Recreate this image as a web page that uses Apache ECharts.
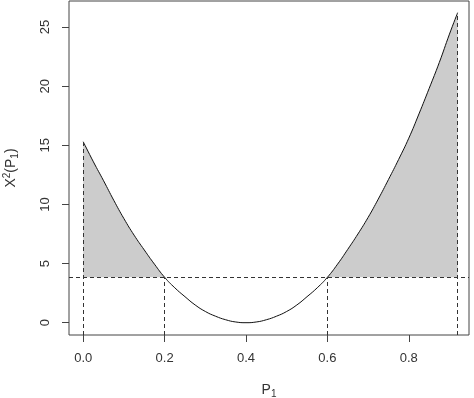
<!DOCTYPE html>
<html>
<head>
<meta charset="utf-8">
<script src="https://cdn.jsdelivr.net/npm/echarts@6/dist/echarts.min.js"></script>
<style>
  html, body { margin: 0; padding: 0; background: #fff; }
  #chart { width: 474px; height: 398px; }
</style>
</head>
<body>
<div id="chart"></div>
<script>
// values
const pValues = [0, 0.025, 0.05, 0.075, 0.1, 0.125, 0.15, 0.175, 0.2, 0.225, 0.25, 0.275, 0.3, 0.325, 0.35, 0.375, 0.4,
  0.425, 0.45, 0.475, 0.5, 0.525, 0.55, 0.575, 0.6, 0.625, 0.65, 0.675, 0.7, 0.725, 0.75, 0.775, 0.8, 0.825, 0.85, 0.875, 0.9, 0.92];
const chiValues = [15.3, 13.6, 12.0, 10.35, 8.8, 7.4, 6.15, 4.95, 3.84, 2.95, 2.2, 1.5, 0.95, 0.55, 0.25, 0.06, 0.0,
  0.06, 0.25, 0.55, 0.95, 1.5, 2.2, 2.95, 3.84, 4.95, 6.2, 7.5, 8.9, 10.45, 12.1, 13.8, 15.6, 17.65, 19.8, 22.0, 24.4, 26.2];
const critical = 3.84;
const cutPoints = [0, 0.2, 0.6, 0.92];
const xTicks = [0, 0.2, 0.4, 0.6, 0.8];
const yTicks = [0, 5, 10, 15, 20, 25];

const xMin = -0.035, xMax = 0.948;
const yMin = -1.04, yMax = 27.2;

const curve = pValues.map((p, i) => [p, chiValues[i]]);
const leftTail = curve.filter(d => d[0] <= 0.2);
const rightTail = curve.filter(d => d[0] >= 0.6);

const font = 'Liberation Sans, Arial, sans-serif';
const ink = '#333';

const vLines = cutPoints.map(c => {
  const top = chiValues[pValues.indexOf(c)];
  return [{ coord: [c, yMin] }, { coord: [c, top] }];
});

const chart = echarts.init(document.getElementById('chart'));
chart.setOption({
  backgroundColor: '#fff',
  animation: false,
  grid: {
    left: 69,
    right: 5,
    top: 1,
    bottom: 63,
    outerBoundsMode: 'none',
    show: true,
    borderColor: '#444',
    borderWidth: 1
  },
  xAxis: {
    type: 'value',
    min: xMin,
    max: xMax,
    name: '{a|P}{s|1}',
    nameLocation: 'middle',
    nameGap: 46,
    nameTextStyle: {
      rich: {
        a: { fontSize: 14, color: ink, fontFamily: font, lineHeight: 18 },
        s: { fontSize: 10, color: ink, fontFamily: font, verticalAlign: 'bottom', padding: [8, 0, 0, 0] }
      }
    },
    axisLine: { show: false, onZero: false },
    splitLine: { show: false },
    axisTick: { show: true, length: 7, customValues: xTicks, lineStyle: { color: '#444' } },
    axisLabel: {
      customValues: xTicks,
      margin: 17,
      fontSize: 13,
      color: ink,
      fontFamily: font,
      formatter: v => v.toFixed(1)
    }
  },
  yAxis: {
    type: 'value',
    min: yMin,
    max: yMax,
    name: '{a|X}{sup|2}{a|(P}{sub|1}{a|)}',
    nameLocation: 'middle',
    nameRotate: 90,
    nameGap: 49,
    nameTextStyle: {
      rich: {
        a: { fontSize: 14, color: ink, fontFamily: font, lineHeight: 18 },
        sup: { fontSize: 10, color: ink, fontFamily: font, verticalAlign: 'top', padding: [0, 0, 8, 0] },
        sub: { fontSize: 10, color: ink, fontFamily: font, verticalAlign: 'bottom', padding: [8, 0, 0, 0] }
      }
    },
    axisLine: { show: false, onZero: false },
    splitLine: { show: false },
    axisTick: { show: true, length: 7, customValues: yTicks, lineStyle: { color: '#444' } },
    axisLabel: {
      customValues: yTicks,
      rotate: 90,
      margin: 17,
      fontSize: 13,
      color: ink,
      fontFamily: font
    }
  },
  series: [
    {
      type: 'line',
      data: leftTail,
      smooth: true,
      showSymbol: false,
      lineStyle: { width: 0 },
      areaStyle: { origin: critical, color: '#cccccc', opacity: 1 },
      z: 1
    },
    {
      type: 'line',
      data: rightTail,
      smooth: true,
      showSymbol: false,
      lineStyle: { width: 0 },
      areaStyle: { origin: critical, color: '#cccccc', opacity: 1 },
      z: 1
    },
    {
      type: 'line',
      data: curve,
      smooth: true,
      showSymbol: false,
      lineStyle: { color: '#111', width: 1 },
      z: 3,
      markLine: {
        silent: true,
        symbol: 'none',
        label: { show: false },
        lineStyle: { color: '#333', width: 1, type: [4, 3] },
        data: [{ yAxis: critical }].concat(vLines)
      }
    }
  ]
});
</script>
</body>
</html>
